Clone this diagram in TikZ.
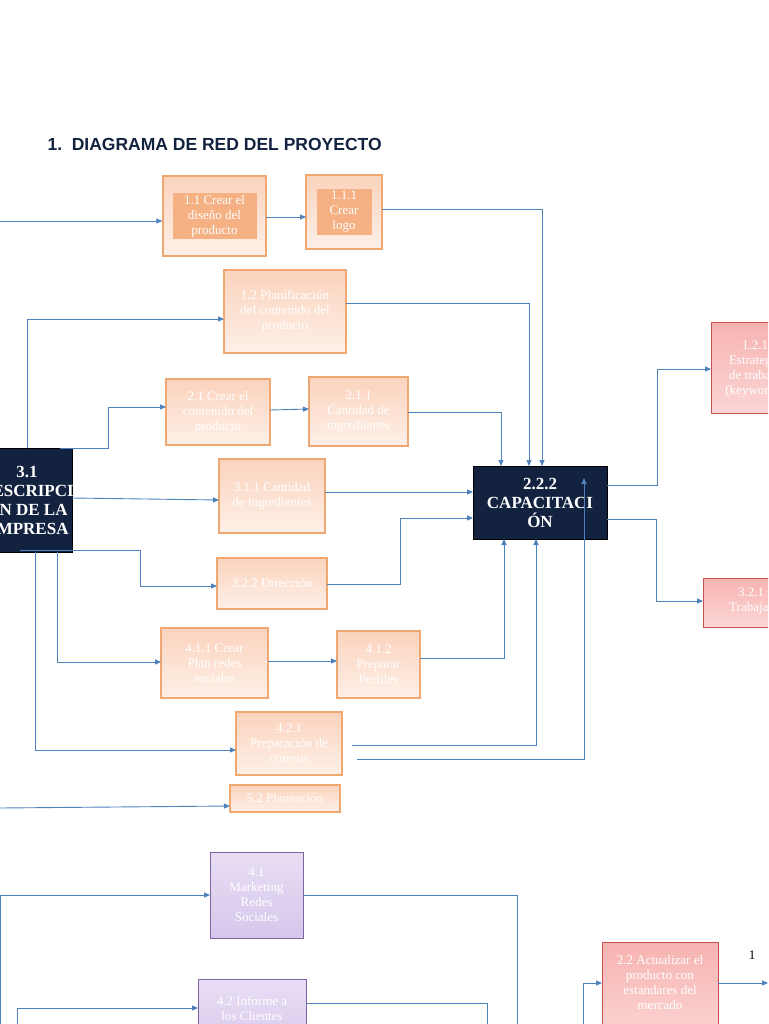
\documentclass[tikz,border=0pt]{standalone}
\usepackage{fontspec}
\setmainfont{Liberation Serif}
\newfontfamily\titlefont{Liberation Sans}
\usetikzlibrary{arrows.meta}
\definecolor{ln}{HTML}{4F81BD}
\definecolor{navy}{HTML}{13233F}
\definecolor{orbd}{HTML}{F0A872}
\definecolor{ortop}{HTML}{FBD3BD}
\definecolor{orbot}{HTML}{FEF0E8}
\definecolor{pkbd}{HTML}{C8504D}
\definecolor{pktop}{HTML}{F6B3B1}
\definecolor{pkbot}{HTML}{FBD6D5}
\definecolor{pubd}{HTML}{8064A2}
\definecolor{putop}{HTML}{E8DDF4}
\definecolor{pubot}{HTML}{D5C7EC}
\definecolor{inner}{HTML}{F5B183}
\tikzset{
 conn/.style={draw=ln, line width=0.9pt, -{Triangle[length=6pt,width=5pt]}},
 plain/.style={draw=ln, line width=0.9pt},
 obox/.style={draw=orbd, line width=1.2pt, top color=ortop, bottom color=orbot, inner sep=0pt},
 pbox/.style={draw=pkbd, line width=1pt, top color=pktop, bottom color=pkbot, inner sep=0pt},
 ubox/.style={draw=pubd, line width=1pt, top color=putop, bottom color=pubot, inner sep=0pt},
 dbox/.style={draw=black, line width=1pt, fill=navy, inner sep=0pt},
 ibox/.style={fill=inner, text=white, font=\fontsize{13}{15}\selectfont, align=center, inner sep=0pt},
 wtext/.style={text=white, font=\fontsize{13}{15}\selectfont, align=center},
 btext/.style={text=white, font=\bfseries\fontsize{17}{19}\selectfont, align=center}
}
\newcommand{\bx}[6]{\node[#1, minimum width=#4-#2, minimum height=#5-#3] (#6) at ({(#2+#4)/2},{(#3+#5)/2}) {};}
\begin{document}
\begin{tikzpicture}[x=1pt,y=-1pt]
\useasboundingbox (0,0) rectangle (768,1024);
\clip (0,0) rectangle (768,1024);
\node[anchor=west, font=\titlefont\bfseries\fontsize{17.5}{20}\selectfont, text=navy] (title) at (44,144) {1.\ \ DIAGRAMA DE RED DEL PROYECTO};
\bx{obox}{163}{176}{266}{256}{b11}
\node[ibox, minimum width=84, minimum height=46] (b11i) at (b11) {1.1 Crear el\\diseño del\\producto};
\bx{obox}{306}{175}{382}{249}{b111}
\node[ibox, minimum width=55, minimum height=46] (b111i) at (b111) {1.1.1\\Crear\\logo};
\bx{obox}{224}{270}{346}{353}{b12}
\node[wtext] at (b12) {1.2 Planificación\\del contenido del\\producto};
\bx{obox}{166}{379}{270}{445}{b21}
\node[wtext] at (b21) {2.1 Crear el\\contenido del\\producto};
\bx{obox}{309}{377}{408}{446}{b211}
\node[wtext] at (b211) {2.1.1\\Cantidad de\\ingredientes};
\bx{dbox}{-40}{448}{72}{552}{b31}
\node[btext] at (27,500) {3.1\\DESCRIPCI\\ÓN DE LA\\EMPRESA};
\bx{obox}{219}{459}{325}{533}{b311}
\node[wtext] at (b311) {3.1.1 Cantidad\\de ingredientes};
\bx{obox}{217}{558}{327}{609}{b322}
\node[wtext] at (b322) {3.2.2 Dirección};
\bx{obox}{161}{628}{268}{698}{b411}
\node[wtext] at (b411) {4.1.1 Crear\\Plan redes\\sociales};
\bx{obox}{337}{631}{420}{698}{b412}
\node[wtext] at (b412) {4.1.2\\Preparar\\Perfiles};
\bx{obox}{236}{712}{342}{775}{b421}
\node[wtext] at (b421) {4.2.1\\Preparación de\\correos};
\bx{obox}{230}{785}{340}{812}{b52}
\node[wtext] at (b52) {5.2 Planeación};
\bx{dbox}{473}{466}{607}{539}{cap}
\node[btext] at (cap) {2.2.2\\CAPACITACI\\ÓN};
\bx{pbox}{711}{322}{800}{413}{b121}
\node[wtext] at (755,369) {1.2.1\\Estrategia\\de trabajo\\(keywords)};
\bx{pbox}{703}{578}{800}{627}{b321}
\node[wtext] at (751,601) {3.2.1\\Trabajar};
\bx{ubox}{210}{852}{303}{938}{b41}
\node[wtext] at (b41) {4.1\\Marketing\\Redes\\Sociales};
\bx{ubox}{198}{979}{306}{1060}{b42}
\node[wtext] at (252,1008) {4.2 Informe a\\los Clientes};
\bx{pbox}{602}{942}{718}{1040}{b22}
\node[wtext] at (660,983) {2.2 Actualizar el\\producto con\\estandares del\\mercado};
\node[font=\fontsize{13}{15}\selectfont] (one) at (752,955) {1};
\coordinate (l1) at (0,221);
\coordinate (l2) at (0,808);
\coordinate (l3) at (0,895);
\coordinate (l4) at (0,1024);
\coordinate (r1) at (768,983);
\coordinate (f1) at (352,745);
\coordinate (f2) at (357,759);
\draw[conn] (l1) -- (b11.west |- l1);
\draw[conn] (266,217) -- (306,217);
\draw[conn] (382,209) -- (542,209) -- (542,466);
\draw[conn] (346,303) -- (529,303) -- (529,466);
\draw[conn] (270,410) -- (309,409);
\draw[conn] (408,412) -- (501,412) -- (501,466);
\draw[conn] (27,448) -- (27,319) -- (224,319);
\draw[conn] (60,448) -- (108,448) -- (108,407) -- (166,407);
\draw[conn] (72,498) -- (219,500);
\draw[conn] (325,492) -- (473,492);
\draw[conn] (20,550) -- (140,550) -- (140,586) -- (217,586);
\draw[conn] (327,584) -- (400,584) -- (400,518) -- (473,518);
\draw[conn] (57,552) -- (57,662) -- (161,662);
\draw[conn] (268,661) -- (337,661);
\draw[conn] (420,658) -- (504,658) -- (504,539);
\draw[conn] (35,552) -- (35,750) -- (236,750);
\draw[conn] (f1) -- (536,745) -- (536,539);
\draw[conn] (f2) -- (584,759) -- (584,478);
\draw[conn] (l2) -- (230,806);
\draw[conn] (607,485) -- (657,485) -- (657,369) -- (711,369);
\draw[conn] (607,519) -- (656,519) -- (656,601) -- (703,601);
\draw[conn] (l3) -- (210,895);
\draw[plain] (303,895) -- (517,895) -- (517,1024);
\draw[plain] (l3) -- (l4);
\draw[conn] (17,1024) -- (17,1008) -- (198,1008);
\draw[plain] (306,1003) -- (487,1003) -- (487,1024);
\draw[conn] (583,1024) -- (583,983) -- (602,983);
\draw[conn] (718,983) -- (r1);
\end{tikzpicture}
\end{document}
